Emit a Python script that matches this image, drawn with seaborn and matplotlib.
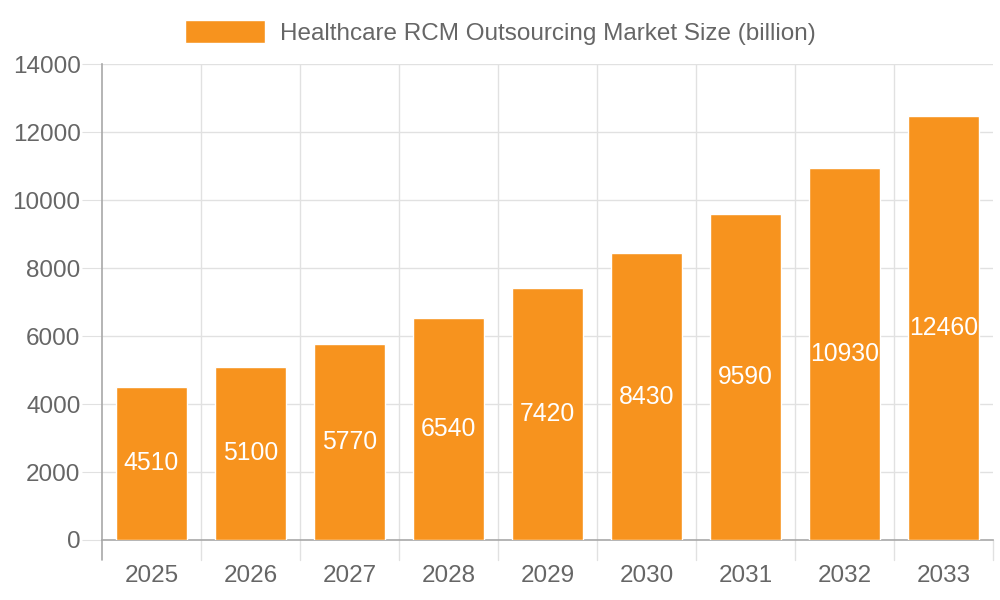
import matplotlib
matplotlib.use("Agg")
import matplotlib.pyplot as plt
import seaborn as sns
import pandas as pd

# chart values
years = ["2025", "2026", "2027", "2028", "2029", "2030", "2031", "2032", "2033"]
market_size = [4510, 5100, 5770, 6540, 7420, 8430, 9590, 10930, 12460]
series_name = "Healthcare RCM Outsourcing Market Size (billion)"

bar_color = "#F7931E"
text_color = "#666666"
grid_color = "#e1e1e1"

sns.set_style("white")
plt.rcParams["font.family"] = ["Liberation Sans", "DejaVu Sans"]

df = pd.DataFrame({"year": years, "size": market_size})

fig = plt.figure(figsize=(10, 6), dpi=100)
ax = fig.add_axes([0.102, 0.1, 0.891, 0.7933])

sns.barplot(data=df, x="year", y="size", color=bar_color, saturation=1,
            width=0.72, ax=ax, label=series_name, zorder=3)

# value labels in the middle of each bar
for i, v in enumerate(market_size):
    ax.text(i, v / 2, str(v), ha="center", va="center", color="white",
            fontsize=17.8, zorder=4)

ax.set_ylim(0, 14000)
ax.set_xlim(-0.5, len(years) - 0.5)
ax.set_yticks(range(0, 14001, 2000))
ax.set_xlabel("")
ax.set_ylabel("")

# gridlines: horizontal at ticks, vertical at category boundaries
for y in range(2000, 14001, 2000):
    ax.axhline(y, color=grid_color, lw=1, zorder=0)
for b in range(1, len(years)):
    ax.axvline(b - 0.5, color=grid_color, lw=1, zorder=0)
    ax.plot([b - 0.5, b - 0.5], [0, -0.042], color=grid_color, lw=1,
            transform=ax.get_xaxis_transform(), clip_on=False)
ax.plot([len(years) - 0.5] * 2, [0, -0.042], color=grid_color, lw=1,
        transform=ax.get_xaxis_transform(), clip_on=False)

for s in ["top", "right"]:
    ax.spines[s].set_visible(False)
ax.spines["left"].set_color("#a8a8a8")
ax.spines["bottom"].set_color("#a8a8a8")
ax.spines["left"].set_linewidth(1.2)
ax.spines["bottom"].set_linewidth(1.2)

ax.tick_params(axis="y", length=14.4, color=grid_color, labelcolor=text_color,
               labelsize=17.5, pad=1, left=True)
ax.tick_params(axis="x", length=0, labelcolor=text_color, labelsize=17.5, pad=18,
               bottom=True)
ax.plot([-0.5, -0.5], [0, -0.042], color="#a8a8a8", lw=1.2,
        transform=ax.get_xaxis_transform(), clip_on=False)

# legend centred on the whole figure
fig.legend(*ax.get_legend_handles_labels(), loc="upper center",
           bbox_to_anchor=(0.5, 1.003), frameon=False, fontsize=17.5,
           handlelength=3.3, handleheight=1.1, handletextpad=0.6,
           labelcolor=text_color)
if ax.get_legend() is not None:
    ax.get_legend().remove()

fig.savefig("out.png", dpi=100)
